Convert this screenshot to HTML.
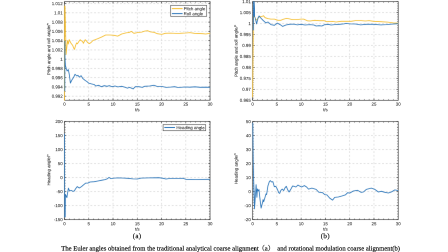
<!DOCTYPE html>
<html><head><meta charset="utf-8"><title>Euler angles</title>
<style>
html,body{margin:0;padding:0;background:#fff;}
svg{display:block}
html,body{overflow:hidden;width:448px;height:252px}
#w{width:448px;height:252px;overflow:hidden;position:relative}
#s{width:896px;height:504px;transform:scale(0.5);transform-origin:0 0;will-change:transform}
.g{stroke:#d4d4d4;stroke-width:0.6;stroke-dasharray:1.85 1.85;fill:none}
.a{stroke:#383838;stroke-width:0.65}
text{text-rendering:geometricPrecision}
.sans text{stroke:#262626;stroke-width:0.05}
.serif text{stroke:#111;stroke-width:0.18}
.sans{font-family:"Liberation Sans",Arial,sans-serif}
.serif{font-family:"Liberation Serif","Noto Serif CJK SC",serif}
.l{stroke:#3a3a3a;stroke-width:0.55}
.t{stroke:#383838;stroke-width:0.5;fill:none}
</style></head><body><div id="w"><div id="s">
<svg width="896" height="504" viewBox="0 0 448 252">
<defs><filter id="soft" x="0" y="0" width="448" height="252" filterUnits="userSpaceOnUse" color-interpolation-filters="sRGB"><feConvolveMatrix order="3" kernelMatrix="0.015 0.06 0.015 0.06 0.70 0.06 0.015 0.06 0.015" edgeMode="duplicate" preserveAlpha="true"/></filter></defs>
<g filter="url(#soft)">
<rect width="448" height="252" fill="#fff"/>
<line x1="88.76" y1="1.6" x2="88.76" y2="100.25" class="g"/>
<line x1="113.02" y1="1.6" x2="113.02" y2="100.25" class="g"/>
<line x1="137.28" y1="1.6" x2="137.28" y2="100.25" class="g"/>
<line x1="161.53" y1="1.6" x2="161.53" y2="100.25" class="g"/>
<line x1="185.79" y1="1.6" x2="185.79" y2="100.25" class="g"/>
<line x1="64.5" y1="3.59" x2="210.05" y2="3.59" class="g"/>
<line x1="64.5" y1="12.85" x2="210.05" y2="12.85" class="g"/>
<line x1="64.5" y1="22.11" x2="210.05" y2="22.11" class="g"/>
<line x1="64.5" y1="31.37" x2="210.05" y2="31.37" class="g"/>
<line x1="64.5" y1="40.63" x2="210.05" y2="40.63" class="g"/>
<line x1="64.5" y1="49.89" x2="210.05" y2="49.89" class="g"/>
<line x1="64.5" y1="59.15" x2="210.05" y2="59.15" class="g"/>
<line x1="64.5" y1="68.41" x2="210.05" y2="68.41" class="g"/>
<line x1="64.5" y1="77.67" x2="210.05" y2="77.67" class="g"/>
<line x1="64.5" y1="86.93" x2="210.05" y2="86.93" class="g"/>
<line x1="64.5" y1="96.19" x2="210.05" y2="96.19" class="g"/>
<line x1="276.88" y1="1.6" x2="276.88" y2="100.3" class="g"/>
<line x1="301.15" y1="1.6" x2="301.15" y2="100.3" class="g"/>
<line x1="325.43" y1="1.6" x2="325.43" y2="100.3" class="g"/>
<line x1="349.70" y1="1.6" x2="349.70" y2="100.3" class="g"/>
<line x1="373.98" y1="1.6" x2="373.98" y2="100.3" class="g"/>
<line x1="252.6" y1="12.57" x2="398.25" y2="12.57" class="g"/>
<line x1="252.6" y1="23.53" x2="398.25" y2="23.53" class="g"/>
<line x1="252.6" y1="34.50" x2="398.25" y2="34.50" class="g"/>
<line x1="252.6" y1="45.47" x2="398.25" y2="45.47" class="g"/>
<line x1="252.6" y1="56.43" x2="398.25" y2="56.43" class="g"/>
<line x1="252.6" y1="67.40" x2="398.25" y2="67.40" class="g"/>
<line x1="252.6" y1="78.37" x2="398.25" y2="78.37" class="g"/>
<line x1="252.6" y1="89.33" x2="398.25" y2="89.33" class="g"/>
<line x1="88.76" y1="121.5" x2="88.76" y2="219.6" class="g"/>
<line x1="113.02" y1="121.5" x2="113.02" y2="219.6" class="g"/>
<line x1="137.28" y1="121.5" x2="137.28" y2="219.6" class="g"/>
<line x1="161.53" y1="121.5" x2="161.53" y2="219.6" class="g"/>
<line x1="185.79" y1="121.5" x2="185.79" y2="219.6" class="g"/>
<line x1="64.5" y1="135.51" x2="210.05" y2="135.51" class="g"/>
<line x1="64.5" y1="149.53" x2="210.05" y2="149.53" class="g"/>
<line x1="64.5" y1="163.54" x2="210.05" y2="163.54" class="g"/>
<line x1="64.5" y1="177.56" x2="210.05" y2="177.56" class="g"/>
<line x1="64.5" y1="191.57" x2="210.05" y2="191.57" class="g"/>
<line x1="64.5" y1="205.59" x2="210.05" y2="205.59" class="g"/>
<line x1="276.88" y1="121.55" x2="276.88" y2="219.6" class="g"/>
<line x1="301.15" y1="121.55" x2="301.15" y2="219.6" class="g"/>
<line x1="325.43" y1="121.55" x2="325.43" y2="219.6" class="g"/>
<line x1="349.70" y1="121.55" x2="349.70" y2="219.6" class="g"/>
<line x1="373.98" y1="121.55" x2="373.98" y2="219.6" class="g"/>
<line x1="252.6" y1="135.56" x2="398.25" y2="135.56" class="g"/>
<line x1="252.6" y1="149.56" x2="398.25" y2="149.56" class="g"/>
<line x1="252.6" y1="163.57" x2="398.25" y2="163.57" class="g"/>
<line x1="252.6" y1="177.58" x2="398.25" y2="177.58" class="g"/>
<line x1="252.6" y1="191.59" x2="398.25" y2="191.59" class="g"/>
<line x1="252.6" y1="205.59" x2="398.25" y2="205.59" class="g"/>
<rect x="64.5" y="1.6" width="145.55" height="98.65" fill="none" class="a"/>
<path d="M64.50 100.25v-1.1M64.50 1.6v1.1M69.35 100.25v-1.1M69.35 1.6v1.1M74.20 100.25v-1.1M74.20 1.6v1.1M79.06 100.25v-1.1M79.06 1.6v1.1M83.91 100.25v-1.1M83.91 1.6v1.1M88.76 100.25v-1.1M88.76 1.6v1.1M93.61 100.25v-1.1M93.61 1.6v1.1M98.46 100.25v-1.1M98.46 1.6v1.1M103.31 100.25v-1.1M103.31 1.6v1.1M108.16 100.25v-1.1M108.16 1.6v1.1M113.02 100.25v-1.1M113.02 1.6v1.1M117.87 100.25v-1.1M117.87 1.6v1.1M122.72 100.25v-1.1M122.72 1.6v1.1M127.57 100.25v-1.1M127.57 1.6v1.1M132.42 100.25v-1.1M132.42 1.6v1.1M137.28 100.25v-1.1M137.28 1.6v1.1M142.13 100.25v-1.1M142.13 1.6v1.1M146.98 100.25v-1.1M146.98 1.6v1.1M151.83 100.25v-1.1M151.83 1.6v1.1M156.68 100.25v-1.1M156.68 1.6v1.1M161.53 100.25v-1.1M161.53 1.6v1.1M166.38 100.25v-1.1M166.38 1.6v1.1M171.24 100.25v-1.1M171.24 1.6v1.1M176.09 100.25v-1.1M176.09 1.6v1.1M180.94 100.25v-1.1M180.94 1.6v1.1M185.79 100.25v-1.1M185.79 1.6v1.1M190.64 100.25v-1.1M190.64 1.6v1.1M195.50 100.25v-1.1M195.50 1.6v1.1M200.35 100.25v-1.1M200.35 1.6v1.1M205.20 100.25v-1.1M205.20 1.6v1.1M210.05 100.25v-1.1M210.05 1.6v1.1M64.5 3.59h1.1M210.05 3.59h-1.1M64.5 8.22h1.1M210.05 8.22h-1.1M64.5 12.85h1.1M210.05 12.85h-1.1M64.5 17.48h1.1M210.05 17.48h-1.1M64.5 22.11h1.1M210.05 22.11h-1.1M64.5 26.74h1.1M210.05 26.74h-1.1M64.5 31.37h1.1M210.05 31.37h-1.1M64.5 36.00h1.1M210.05 36.00h-1.1M64.5 40.63h1.1M210.05 40.63h-1.1M64.5 45.26h1.1M210.05 45.26h-1.1M64.5 49.89h1.1M210.05 49.89h-1.1M64.5 54.52h1.1M210.05 54.52h-1.1M64.5 59.15h1.1M210.05 59.15h-1.1M64.5 63.78h1.1M210.05 63.78h-1.1M64.5 68.41h1.1M210.05 68.41h-1.1M64.5 73.04h1.1M210.05 73.04h-1.1M64.5 77.67h1.1M210.05 77.67h-1.1M64.5 82.30h1.1M210.05 82.30h-1.1M64.5 86.93h1.1M210.05 86.93h-1.1M64.5 91.56h1.1M210.05 91.56h-1.1M64.5 96.19h1.1M210.05 96.19h-1.1M64.50 100.25v-1.9M64.50 1.6v1.9M88.76 100.25v-1.9M88.76 1.6v1.9M113.02 100.25v-1.9M113.02 1.6v1.9M137.28 100.25v-1.9M137.28 1.6v1.9M161.53 100.25v-1.9M161.53 1.6v1.9M185.79 100.25v-1.9M185.79 1.6v1.9M210.05 100.25v-1.9M210.05 1.6v1.9M64.5 3.59h1.9M210.05 3.59h-1.9M64.5 12.85h1.9M210.05 12.85h-1.9M64.5 22.11h1.9M210.05 22.11h-1.9M64.5 31.37h1.9M210.05 31.37h-1.9M64.5 40.63h1.9M210.05 40.63h-1.9M64.5 49.89h1.9M210.05 49.89h-1.9M64.5 59.15h1.9M210.05 59.15h-1.9M64.5 68.41h1.9M210.05 68.41h-1.9M64.5 77.67h1.9M210.05 77.67h-1.9M64.5 86.93h1.9M210.05 86.93h-1.9M64.5 96.19h1.9M210.05 96.19h-1.9" class="t"/>
<rect x="252.6" y="1.6" width="145.65" height="98.70" fill="none" class="a"/>
<path d="M252.60 100.3v-1.1M252.60 1.6v1.1M257.45 100.3v-1.1M257.45 1.6v1.1M262.31 100.3v-1.1M262.31 1.6v1.1M267.17 100.3v-1.1M267.17 1.6v1.1M272.02 100.3v-1.1M272.02 1.6v1.1M276.88 100.3v-1.1M276.88 1.6v1.1M281.73 100.3v-1.1M281.73 1.6v1.1M286.58 100.3v-1.1M286.58 1.6v1.1M291.44 100.3v-1.1M291.44 1.6v1.1M296.30 100.3v-1.1M296.30 1.6v1.1M301.15 100.3v-1.1M301.15 1.6v1.1M306.00 100.3v-1.1M306.00 1.6v1.1M310.86 100.3v-1.1M310.86 1.6v1.1M315.71 100.3v-1.1M315.71 1.6v1.1M320.57 100.3v-1.1M320.57 1.6v1.1M325.43 100.3v-1.1M325.43 1.6v1.1M330.28 100.3v-1.1M330.28 1.6v1.1M335.13 100.3v-1.1M335.13 1.6v1.1M339.99 100.3v-1.1M339.99 1.6v1.1M344.84 100.3v-1.1M344.84 1.6v1.1M349.70 100.3v-1.1M349.70 1.6v1.1M354.56 100.3v-1.1M354.56 1.6v1.1M359.41 100.3v-1.1M359.41 1.6v1.1M364.26 100.3v-1.1M364.26 1.6v1.1M369.12 100.3v-1.1M369.12 1.6v1.1M373.98 100.3v-1.1M373.98 1.6v1.1M378.83 100.3v-1.1M378.83 1.6v1.1M383.69 100.3v-1.1M383.69 1.6v1.1M388.54 100.3v-1.1M388.54 1.6v1.1M393.39 100.3v-1.1M393.39 1.6v1.1M398.25 100.3v-1.1M398.25 1.6v1.1M252.6 1.60h1.1M398.25 1.60h-1.1M252.6 3.79h1.1M398.25 3.79h-1.1M252.6 5.99h1.1M398.25 5.99h-1.1M252.6 8.18h1.1M398.25 8.18h-1.1M252.6 10.37h1.1M398.25 10.37h-1.1M252.6 12.57h1.1M398.25 12.57h-1.1M252.6 14.76h1.1M398.25 14.76h-1.1M252.6 16.95h1.1M398.25 16.95h-1.1M252.6 19.15h1.1M398.25 19.15h-1.1M252.6 21.34h1.1M398.25 21.34h-1.1M252.6 23.53h1.1M398.25 23.53h-1.1M252.6 25.73h1.1M398.25 25.73h-1.1M252.6 27.92h1.1M398.25 27.92h-1.1M252.6 30.11h1.1M398.25 30.11h-1.1M252.6 32.31h1.1M398.25 32.31h-1.1M252.6 34.50h1.1M398.25 34.50h-1.1M252.6 36.69h1.1M398.25 36.69h-1.1M252.6 38.89h1.1M398.25 38.89h-1.1M252.6 41.08h1.1M398.25 41.08h-1.1M252.6 43.27h1.1M398.25 43.27h-1.1M252.6 45.47h1.1M398.25 45.47h-1.1M252.6 47.66h1.1M398.25 47.66h-1.1M252.6 49.85h1.1M398.25 49.85h-1.1M252.6 52.05h1.1M398.25 52.05h-1.1M252.6 54.24h1.1M398.25 54.24h-1.1M252.6 56.43h1.1M398.25 56.43h-1.1M252.6 58.63h1.1M398.25 58.63h-1.1M252.6 60.82h1.1M398.25 60.82h-1.1M252.6 63.01h1.1M398.25 63.01h-1.1M252.6 65.21h1.1M398.25 65.21h-1.1M252.6 67.40h1.1M398.25 67.40h-1.1M252.6 69.59h1.1M398.25 69.59h-1.1M252.6 71.79h1.1M398.25 71.79h-1.1M252.6 73.98h1.1M398.25 73.98h-1.1M252.6 76.17h1.1M398.25 76.17h-1.1M252.6 78.37h1.1M398.25 78.37h-1.1M252.6 80.56h1.1M398.25 80.56h-1.1M252.6 82.75h1.1M398.25 82.75h-1.1M252.6 84.95h1.1M398.25 84.95h-1.1M252.6 87.14h1.1M398.25 87.14h-1.1M252.6 89.33h1.1M398.25 89.33h-1.1M252.6 91.53h1.1M398.25 91.53h-1.1M252.6 93.72h1.1M398.25 93.72h-1.1M252.6 95.91h1.1M398.25 95.91h-1.1M252.6 98.11h1.1M398.25 98.11h-1.1M252.6 100.30h1.1M398.25 100.30h-1.1M252.60 100.3v-1.9M252.60 1.6v1.9M276.88 100.3v-1.9M276.88 1.6v1.9M301.15 100.3v-1.9M301.15 1.6v1.9M325.43 100.3v-1.9M325.43 1.6v1.9M349.70 100.3v-1.9M349.70 1.6v1.9M373.98 100.3v-1.9M373.98 1.6v1.9M398.25 100.3v-1.9M398.25 1.6v1.9M252.6 1.60h1.9M398.25 1.60h-1.9M252.6 12.57h1.9M398.25 12.57h-1.9M252.6 23.53h1.9M398.25 23.53h-1.9M252.6 34.50h1.9M398.25 34.50h-1.9M252.6 45.47h1.9M398.25 45.47h-1.9M252.6 56.43h1.9M398.25 56.43h-1.9M252.6 67.40h1.9M398.25 67.40h-1.9M252.6 78.37h1.9M398.25 78.37h-1.9M252.6 89.33h1.9M398.25 89.33h-1.9M252.6 100.30h1.9M398.25 100.30h-1.9" class="t"/>
<rect x="64.5" y="121.5" width="145.55" height="98.10" fill="none" class="a"/>
<path d="M64.50 219.6v-1.1M64.50 121.5v1.1M69.35 219.6v-1.1M69.35 121.5v1.1M74.20 219.6v-1.1M74.20 121.5v1.1M79.06 219.6v-1.1M79.06 121.5v1.1M83.91 219.6v-1.1M83.91 121.5v1.1M88.76 219.6v-1.1M88.76 121.5v1.1M93.61 219.6v-1.1M93.61 121.5v1.1M98.46 219.6v-1.1M98.46 121.5v1.1M103.31 219.6v-1.1M103.31 121.5v1.1M108.16 219.6v-1.1M108.16 121.5v1.1M113.02 219.6v-1.1M113.02 121.5v1.1M117.87 219.6v-1.1M117.87 121.5v1.1M122.72 219.6v-1.1M122.72 121.5v1.1M127.57 219.6v-1.1M127.57 121.5v1.1M132.42 219.6v-1.1M132.42 121.5v1.1M137.28 219.6v-1.1M137.28 121.5v1.1M142.13 219.6v-1.1M142.13 121.5v1.1M146.98 219.6v-1.1M146.98 121.5v1.1M151.83 219.6v-1.1M151.83 121.5v1.1M156.68 219.6v-1.1M156.68 121.5v1.1M161.53 219.6v-1.1M161.53 121.5v1.1M166.38 219.6v-1.1M166.38 121.5v1.1M171.24 219.6v-1.1M171.24 121.5v1.1M176.09 219.6v-1.1M176.09 121.5v1.1M180.94 219.6v-1.1M180.94 121.5v1.1M185.79 219.6v-1.1M185.79 121.5v1.1M190.64 219.6v-1.1M190.64 121.5v1.1M195.50 219.6v-1.1M195.50 121.5v1.1M200.35 219.6v-1.1M200.35 121.5v1.1M205.20 219.6v-1.1M205.20 121.5v1.1M210.05 219.6v-1.1M210.05 121.5v1.1M64.5 121.50h1.1M210.05 121.50h-1.1M64.5 124.30h1.1M210.05 124.30h-1.1M64.5 127.11h1.1M210.05 127.11h-1.1M64.5 129.91h1.1M210.05 129.91h-1.1M64.5 132.71h1.1M210.05 132.71h-1.1M64.5 135.51h1.1M210.05 135.51h-1.1M64.5 138.32h1.1M210.05 138.32h-1.1M64.5 141.12h1.1M210.05 141.12h-1.1M64.5 143.92h1.1M210.05 143.92h-1.1M64.5 146.73h1.1M210.05 146.73h-1.1M64.5 149.53h1.1M210.05 149.53h-1.1M64.5 152.33h1.1M210.05 152.33h-1.1M64.5 155.13h1.1M210.05 155.13h-1.1M64.5 157.94h1.1M210.05 157.94h-1.1M64.5 160.74h1.1M210.05 160.74h-1.1M64.5 163.54h1.1M210.05 163.54h-1.1M64.5 166.35h1.1M210.05 166.35h-1.1M64.5 169.15h1.1M210.05 169.15h-1.1M64.5 171.95h1.1M210.05 171.95h-1.1M64.5 174.75h1.1M210.05 174.75h-1.1M64.5 177.56h1.1M210.05 177.56h-1.1M64.5 180.36h1.1M210.05 180.36h-1.1M64.5 183.16h1.1M210.05 183.16h-1.1M64.5 185.97h1.1M210.05 185.97h-1.1M64.5 188.77h1.1M210.05 188.77h-1.1M64.5 191.57h1.1M210.05 191.57h-1.1M64.5 194.37h1.1M210.05 194.37h-1.1M64.5 197.18h1.1M210.05 197.18h-1.1M64.5 199.98h1.1M210.05 199.98h-1.1M64.5 202.78h1.1M210.05 202.78h-1.1M64.5 205.59h1.1M210.05 205.59h-1.1M64.5 208.39h1.1M210.05 208.39h-1.1M64.5 211.19h1.1M210.05 211.19h-1.1M64.5 213.99h1.1M210.05 213.99h-1.1M64.5 216.80h1.1M210.05 216.80h-1.1M64.5 219.60h1.1M210.05 219.60h-1.1M64.50 219.6v-1.9M64.50 121.5v1.9M88.76 219.6v-1.9M88.76 121.5v1.9M113.02 219.6v-1.9M113.02 121.5v1.9M137.28 219.6v-1.9M137.28 121.5v1.9M161.53 219.6v-1.9M161.53 121.5v1.9M185.79 219.6v-1.9M185.79 121.5v1.9M210.05 219.6v-1.9M210.05 121.5v1.9M64.5 121.50h1.9M210.05 121.50h-1.9M64.5 135.51h1.9M210.05 135.51h-1.9M64.5 149.53h1.9M210.05 149.53h-1.9M64.5 163.54h1.9M210.05 163.54h-1.9M64.5 177.56h1.9M210.05 177.56h-1.9M64.5 191.57h1.9M210.05 191.57h-1.9M64.5 205.59h1.9M210.05 205.59h-1.9M64.5 219.60h1.9M210.05 219.60h-1.9" class="t"/>
<rect x="252.6" y="121.55" width="145.65" height="98.05" fill="none" class="a"/>
<path d="M252.60 219.6v-1.1M252.60 121.55v1.1M257.45 219.6v-1.1M257.45 121.55v1.1M262.31 219.6v-1.1M262.31 121.55v1.1M267.17 219.6v-1.1M267.17 121.55v1.1M272.02 219.6v-1.1M272.02 121.55v1.1M276.88 219.6v-1.1M276.88 121.55v1.1M281.73 219.6v-1.1M281.73 121.55v1.1M286.58 219.6v-1.1M286.58 121.55v1.1M291.44 219.6v-1.1M291.44 121.55v1.1M296.30 219.6v-1.1M296.30 121.55v1.1M301.15 219.6v-1.1M301.15 121.55v1.1M306.00 219.6v-1.1M306.00 121.55v1.1M310.86 219.6v-1.1M310.86 121.55v1.1M315.71 219.6v-1.1M315.71 121.55v1.1M320.57 219.6v-1.1M320.57 121.55v1.1M325.43 219.6v-1.1M325.43 121.55v1.1M330.28 219.6v-1.1M330.28 121.55v1.1M335.13 219.6v-1.1M335.13 121.55v1.1M339.99 219.6v-1.1M339.99 121.55v1.1M344.84 219.6v-1.1M344.84 121.55v1.1M349.70 219.6v-1.1M349.70 121.55v1.1M354.56 219.6v-1.1M354.56 121.55v1.1M359.41 219.6v-1.1M359.41 121.55v1.1M364.26 219.6v-1.1M364.26 121.55v1.1M369.12 219.6v-1.1M369.12 121.55v1.1M373.98 219.6v-1.1M373.98 121.55v1.1M378.83 219.6v-1.1M378.83 121.55v1.1M383.69 219.6v-1.1M383.69 121.55v1.1M388.54 219.6v-1.1M388.54 121.55v1.1M393.39 219.6v-1.1M393.39 121.55v1.1M398.25 219.6v-1.1M398.25 121.55v1.1M252.6 121.55h1.1M398.25 121.55h-1.1M252.6 124.35h1.1M398.25 124.35h-1.1M252.6 127.15h1.1M398.25 127.15h-1.1M252.6 129.95h1.1M398.25 129.95h-1.1M252.6 132.76h1.1M398.25 132.76h-1.1M252.6 135.56h1.1M398.25 135.56h-1.1M252.6 138.36h1.1M398.25 138.36h-1.1M252.6 141.16h1.1M398.25 141.16h-1.1M252.6 143.96h1.1M398.25 143.96h-1.1M252.6 146.76h1.1M398.25 146.76h-1.1M252.6 149.56h1.1M398.25 149.56h-1.1M252.6 152.37h1.1M398.25 152.37h-1.1M252.6 155.17h1.1M398.25 155.17h-1.1M252.6 157.97h1.1M398.25 157.97h-1.1M252.6 160.77h1.1M398.25 160.77h-1.1M252.6 163.57h1.1M398.25 163.57h-1.1M252.6 166.37h1.1M398.25 166.37h-1.1M252.6 169.17h1.1M398.25 169.17h-1.1M252.6 171.98h1.1M398.25 171.98h-1.1M252.6 174.78h1.1M398.25 174.78h-1.1M252.6 177.58h1.1M398.25 177.58h-1.1M252.6 180.38h1.1M398.25 180.38h-1.1M252.6 183.18h1.1M398.25 183.18h-1.1M252.6 185.98h1.1M398.25 185.98h-1.1M252.6 188.78h1.1M398.25 188.78h-1.1M252.6 191.59h1.1M398.25 191.59h-1.1M252.6 194.39h1.1M398.25 194.39h-1.1M252.6 197.19h1.1M398.25 197.19h-1.1M252.6 199.99h1.1M398.25 199.99h-1.1M252.6 202.79h1.1M398.25 202.79h-1.1M252.6 205.59h1.1M398.25 205.59h-1.1M252.6 208.39h1.1M398.25 208.39h-1.1M252.6 211.20h1.1M398.25 211.20h-1.1M252.6 214.00h1.1M398.25 214.00h-1.1M252.6 216.80h1.1M398.25 216.80h-1.1M252.6 219.60h1.1M398.25 219.60h-1.1M252.60 219.6v-1.9M252.60 121.55v1.9M276.88 219.6v-1.9M276.88 121.55v1.9M301.15 219.6v-1.9M301.15 121.55v1.9M325.43 219.6v-1.9M325.43 121.55v1.9M349.70 219.6v-1.9M349.70 121.55v1.9M373.98 219.6v-1.9M373.98 121.55v1.9M398.25 219.6v-1.9M398.25 121.55v1.9M252.6 121.55h1.9M398.25 121.55h-1.9M252.6 135.56h1.9M398.25 135.56h-1.9M252.6 149.56h1.9M398.25 149.56h-1.9M252.6 163.57h1.9M398.25 163.57h-1.9M252.6 177.58h1.9M398.25 177.58h-1.9M252.6 191.59h1.9M398.25 191.59h-1.9M252.6 205.59h1.9M398.25 205.59h-1.9M252.6 219.60h1.9M398.25 219.60h-1.9" class="t"/>
<polyline points="64.4,100.3 64.7,6.0 65.0,6.0 66.1,54.5 67.5,40.5 68.3,44.0 69.2,39.6 70.6,42.6 71.6,44.0 72.7,45.4 73.8,48.3 74.5,49.4 75.6,45.4 76.6,42.9 77.4,43.8 79.1,41.1 80.2,39.7 81.3,40.8 82.4,41.1 83.4,43.3 84.5,41.1 85.2,39.7 86.6,41.1 87.7,42.6 89.1,43.6 90.6,42.9 92.0,41.5 93.1,40.4 94.3,40.0 97.9,38.6 101.4,37.1 105.7,35.0 110.0,35.0 114.0,35.3 117.7,36.1 121.7,34.0 126.0,32.9 129.6,32.3 131.4,31.4 133.9,33.3 137.4,32.6 141.7,32.1 144.6,31.1 147.7,30.7 150.3,31.9 153.9,32.3 157.4,33.7 161.7,34.4 165.3,33.3 170.3,33.1 176.0,33.4 180.0,33.3 185.7,33.0 190.0,32.6 194.3,33.3 202.9,33.7 205.7,34.0 209.8,33.3" fill="none" stroke="#F5BD2D" stroke-width="0.82" stroke-linejoin="round" stroke-linecap="round"/>
<polyline points="64.8,91.0 64.9,41.0 65.0,58.0 65.4,65.3 66.4,69.0 67.1,71.0 68.3,69.6 69.3,74.6 70.4,83.1 72.1,79.6 73.6,77.4 75.0,74.3 76.9,76.0 77.9,75.3 79.3,77.1 81.1,75.7 82.9,78.6 85.0,80.3 87.1,81.7 88.6,83.1 91.4,83.9 94.3,84.6 95.7,86.0 98.6,85.3 101.4,86.7 104.3,85.7 107.1,86.3 109.3,85.6 112.1,86.7 115.0,86.0 117.9,86.9 121.7,86.3 124.6,87.1 127.4,88.1 129.6,87.4 133.1,88.9 135.3,86.7 138.9,86.7 142.4,87.4 144.6,86.3 149.6,86.0 153.9,85.3 156.7,86.3 161.7,86.4 166.0,87.4 170.3,87.1 174.6,86.7 177.4,87.4 180.0,87.4 185.0,87.0 190.0,87.2 195.0,86.8 200.0,87.3 205.0,87.2 209.8,87.3" fill="none" stroke="#2B75B9" stroke-width="0.82" stroke-linejoin="round" stroke-linecap="round"/>
<polyline points="252.6,97.0 253.2,40.0 253.4,20.0 253.8,14.0 254.4,16.7 255.9,20.3 257.3,19.0 259.4,16.7 261.6,16.7 263.4,15.7 265.1,17.7 268.0,18.6 270.9,19.1 274.4,19.1 278.0,20.3 280.9,20.3 283.7,19.1 286.6,18.4 289.4,18.9 292.3,19.6 296.6,19.6 300.9,19.1 303.7,19.1 307.4,20.8 310.1,21.0 314.7,20.3 319.7,20.7 324.0,20.6 326.9,21.7 332.6,21.4 336.1,22.0 341.1,21.3 346.9,21.3 351.1,21.3 355.4,20.6 361.1,20.6 365.4,21.0 369.1,20.6 373.4,21.3 380.6,21.7 387.7,22.1 393.4,22.9 398.0,23.1" fill="none" stroke="#F5BD2D" stroke-width="0.82" stroke-linejoin="round" stroke-linecap="round"/>
<polyline points="253.3,30.0 253.6,1.6 253.9,1.6 254.3,16.0 255.4,18.9 256.6,23.9 258.0,18.1 259.1,16.0 260.9,18.1 263.0,20.3 265.9,22.9 268.0,22.0 270.9,24.6 274.4,25.3 277.3,23.1 280.1,24.6 282.7,26.4 285.9,25.0 289.4,24.3 293.7,24.1 297.3,24.9 300.9,24.3 305.1,25.0 309.7,24.6 314.0,25.0 316.1,26.0 319.0,25.7 321.9,26.0 324.7,24.6 328.3,24.3 331.1,25.0 334.7,24.6 339.7,24.3 344.0,23.9 346.1,23.4 349.7,23.9 355.4,24.0 360.6,24.9 366.3,24.3 373.4,24.3 380.6,24.9 386.3,24.6 392.0,24.1 398.0,23.7" fill="none" stroke="#2B75B9" stroke-width="0.82" stroke-linejoin="round" stroke-linecap="round"/>
<polyline points="64.6,134.0 64.7,217.0 65.2,217.0 65.4,194.5 66.1,195.8 66.9,197.6 67.5,193.5 68.4,188.2 69.5,190.8 71.4,190.5 72.9,191.3 74.3,191.0 75.7,188.6 77.2,186.6 79.3,188.0 81.4,186.7 83.6,184.8 85.7,183.1 87.9,183.1 90.0,182.0 94.3,181.7 97.9,181.0 101.4,180.3 105.0,179.6 107.1,178.9 109.0,177.4 110.7,178.6 114.3,178.1 118.6,177.9 124.0,178.1 127.4,178.3 133.1,178.9 137.4,179.0 141.0,178.1 148.9,177.9 158.9,177.7 163.1,178.3 166.0,179.0 170.3,178.4 180.0,178.4 182.9,178.3 185.7,179.3 195.7,179.5 209.8,179.3" fill="none" stroke="#2B75B9" stroke-width="0.82" stroke-linejoin="round" stroke-linecap="round"/>
<polyline points="252.8,123.0 253.2,160.0 253.8,190.0 254.5,208.9 255.4,196.0 256.1,184.6 256.9,197.4 257.4,188.9 258.3,191.0 259.0,189.6 259.8,197.4 261.1,208.1 262.6,202.4 263.1,199.6 263.7,201.7 265.0,197.4 266.0,193.9 266.6,194.6 267.9,186.0 269.3,181.7 270.3,180.6 271.6,182.0 272.9,181.7 274.3,186.7 275.8,186.3 277.2,188.9 278.7,192.7 279.7,193.4 280.9,190.3 282.3,189.1 283.7,190.6 285.1,187.7 286.3,186.3 287.7,189.9 289.1,192.0 290.9,189.1 292.6,186.0 294.0,186.3 295.9,187.0 298.0,185.1 300.1,186.3 301.6,187.0 304.4,185.6 306.6,187.0 308.5,189.1 311.9,188.1 316.1,189.4 319.0,192.4 322.6,192.7 324.7,194.6 326.9,194.9 329.7,198.1 332.6,200.1 334.7,197.4 338.3,197.0 341.9,196.0 345.4,194.9 347.6,192.7 349.7,193.1 353.3,191.0 357.6,190.3 361.2,192.4 363.4,192.0 366.3,189.4 371.3,188.1 374.9,189.4 378.4,192.0 381.3,191.3 384.9,192.3 388.4,193.0 391.3,192.0 394.9,189.9 398.0,190.6" fill="none" stroke="#2B75B9" stroke-width="0.82" stroke-linejoin="round" stroke-linecap="round"/>
<rect x="170.7" y="5.3" width="35.9" height="11.1" fill="#fff" class="l"/>
<line x1="171.9" y1="8.6" x2="182.6" y2="8.6" stroke="#F5BD2D"/>
<line x1="171.9" y1="13.6" x2="182.6" y2="13.6" stroke="#2B75B9"/>
<rect x="163.1" y="124.6" width="42.6" height="6.1" fill="#fff" class="l"/>
<line x1="164.3" y1="127.5" x2="175" y2="127.5" stroke="#2B75B9"/>
</g>
<g class="sans" font-size="4.4" fill="#262626">
<text x="64.50" y="105.70" text-anchor="middle" transform="rotate(0.25 64.50 105.70)">0</text>
<text x="88.76" y="105.70" text-anchor="middle" transform="rotate(0.25 88.76 105.70)">5</text>
<text x="113.02" y="105.70" text-anchor="middle" transform="rotate(0.25 113.02 105.70)">10</text>
<text x="137.28" y="105.70" text-anchor="middle" transform="rotate(0.25 137.28 105.70)">15</text>
<text x="161.53" y="105.70" text-anchor="middle" transform="rotate(0.25 161.53 105.70)">20</text>
<text x="185.79" y="105.70" text-anchor="middle" transform="rotate(0.25 185.79 105.70)">25</text>
<text x="210.05" y="105.70" text-anchor="middle" transform="rotate(0.25 210.05 105.70)">30</text>
<text x="62.70" y="5.19" text-anchor="end" transform="rotate(0.25 62.70 5.19)">1.012</text>
<text x="62.70" y="14.45" text-anchor="end" transform="rotate(0.25 62.70 14.45)">1.01</text>
<text x="62.70" y="23.71" text-anchor="end" transform="rotate(0.25 62.70 23.71)">1.008</text>
<text x="62.70" y="32.97" text-anchor="end" transform="rotate(0.25 62.70 32.97)">1.006</text>
<text x="62.70" y="42.23" text-anchor="end" transform="rotate(0.25 62.70 42.23)">1.004</text>
<text x="62.70" y="51.49" text-anchor="end" transform="rotate(0.25 62.70 51.49)">1.002</text>
<text x="62.70" y="60.75" text-anchor="end" transform="rotate(0.25 62.70 60.75)">1</text>
<text x="62.70" y="70.01" text-anchor="end" transform="rotate(0.25 62.70 70.01)">0.998</text>
<text x="62.70" y="79.27" text-anchor="end" transform="rotate(0.25 62.70 79.27)">0.996</text>
<text x="62.70" y="88.53" text-anchor="end" transform="rotate(0.25 62.70 88.53)">0.994</text>
<text x="62.70" y="97.79" text-anchor="end" transform="rotate(0.25 62.70 97.79)">0.992</text>
<text x="252.60" y="105.70" text-anchor="middle" transform="rotate(0.25 252.60 105.70)">0</text>
<text x="276.88" y="105.70" text-anchor="middle" transform="rotate(0.25 276.88 105.70)">5</text>
<text x="301.15" y="105.70" text-anchor="middle" transform="rotate(0.25 301.15 105.70)">10</text>
<text x="325.43" y="105.70" text-anchor="middle" transform="rotate(0.25 325.43 105.70)">15</text>
<text x="349.70" y="105.70" text-anchor="middle" transform="rotate(0.25 349.70 105.70)">20</text>
<text x="373.98" y="105.70" text-anchor="middle" transform="rotate(0.25 373.98 105.70)">25</text>
<text x="398.25" y="105.70" text-anchor="middle" transform="rotate(0.25 398.25 105.70)">30</text>
<text x="250.80" y="3.20" text-anchor="end" transform="rotate(0.25 250.80 3.20)">1.01</text>
<text x="250.80" y="14.17" text-anchor="end" transform="rotate(0.25 250.80 14.17)">1.005</text>
<text x="250.80" y="25.13" text-anchor="end" transform="rotate(0.25 250.80 25.13)">1</text>
<text x="250.80" y="36.10" text-anchor="end" transform="rotate(0.25 250.80 36.10)">0.995</text>
<text x="250.80" y="47.07" text-anchor="end" transform="rotate(0.25 250.80 47.07)">0.99</text>
<text x="250.80" y="58.03" text-anchor="end" transform="rotate(0.25 250.80 58.03)">0.985</text>
<text x="250.80" y="69.00" text-anchor="end" transform="rotate(0.25 250.80 69.00)">0.98</text>
<text x="250.80" y="79.97" text-anchor="end" transform="rotate(0.25 250.80 79.97)">0.975</text>
<text x="250.80" y="90.93" text-anchor="end" transform="rotate(0.25 250.80 90.93)">0.97</text>
<text x="250.80" y="101.90" text-anchor="end" transform="rotate(0.25 250.80 101.90)">0.965</text>
<text x="64.50" y="225.30" text-anchor="middle" transform="rotate(0.25 64.50 225.30)">0</text>
<text x="88.76" y="225.30" text-anchor="middle" transform="rotate(0.25 88.76 225.30)">5</text>
<text x="113.02" y="225.30" text-anchor="middle" transform="rotate(0.25 113.02 225.30)">10</text>
<text x="137.28" y="225.30" text-anchor="middle" transform="rotate(0.25 137.28 225.30)">15</text>
<text x="161.53" y="225.30" text-anchor="middle" transform="rotate(0.25 161.53 225.30)">20</text>
<text x="185.79" y="225.30" text-anchor="middle" transform="rotate(0.25 185.79 225.30)">25</text>
<text x="210.05" y="225.30" text-anchor="middle" transform="rotate(0.25 210.05 225.30)">30</text>
<text x="62.70" y="123.10" text-anchor="end" transform="rotate(0.25 62.70 123.10)">200</text>
<text x="62.70" y="137.11" text-anchor="end" transform="rotate(0.25 62.70 137.11)">150</text>
<text x="62.70" y="151.13" text-anchor="end" transform="rotate(0.25 62.70 151.13)">100</text>
<text x="62.70" y="165.14" text-anchor="end" transform="rotate(0.25 62.70 165.14)">50</text>
<text x="62.70" y="179.16" text-anchor="end" transform="rotate(0.25 62.70 179.16)">0</text>
<text x="62.70" y="193.17" text-anchor="end" transform="rotate(0.25 62.70 193.17)">-50</text>
<text x="62.70" y="207.19" text-anchor="end" transform="rotate(0.25 62.70 207.19)">-100</text>
<text x="62.70" y="221.20" text-anchor="end" transform="rotate(0.25 62.70 221.20)">-150</text>
<text x="252.60" y="225.30" text-anchor="middle" transform="rotate(0.25 252.60 225.30)">0</text>
<text x="276.88" y="225.30" text-anchor="middle" transform="rotate(0.25 276.88 225.30)">5</text>
<text x="301.15" y="225.30" text-anchor="middle" transform="rotate(0.25 301.15 225.30)">10</text>
<text x="325.43" y="225.30" text-anchor="middle" transform="rotate(0.25 325.43 225.30)">15</text>
<text x="349.70" y="225.30" text-anchor="middle" transform="rotate(0.25 349.70 225.30)">20</text>
<text x="373.98" y="225.30" text-anchor="middle" transform="rotate(0.25 373.98 225.30)">25</text>
<text x="398.25" y="225.30" text-anchor="middle" transform="rotate(0.25 398.25 225.30)">30</text>
<text x="250.80" y="123.15" text-anchor="end" transform="rotate(0.25 250.80 123.15)">50</text>
<text x="250.80" y="137.16" text-anchor="end" transform="rotate(0.25 250.80 137.16)">40</text>
<text x="250.80" y="151.16" text-anchor="end" transform="rotate(0.25 250.80 151.16)">30</text>
<text x="250.80" y="165.17" text-anchor="end" transform="rotate(0.25 250.80 165.17)">20</text>
<text x="250.80" y="179.18" text-anchor="end" transform="rotate(0.25 250.80 179.18)">10</text>
<text x="250.80" y="193.19" text-anchor="end" transform="rotate(0.25 250.80 193.19)">0</text>
<text x="250.80" y="207.19" text-anchor="end" transform="rotate(0.25 250.80 207.19)">-10</text>
<text x="250.80" y="221.20" text-anchor="end" transform="rotate(0.25 250.80 221.20)">-20</text>
<text x="137.3" y="111.3" text-anchor="middle" transform="rotate(0.25 137.3 111.3)">t/s</text>
<text x="137.3" y="230.6" text-anchor="middle" transform="rotate(0.25 137.3 230.6)">t/s</text>
<text x="325.4" y="111.3" text-anchor="middle" transform="rotate(0.25 325.4 111.3)">t/s</text>
<text x="325.4" y="230.6" text-anchor="middle" transform="rotate(0.25 325.4 230.6)">t/s</text>
<text transform="translate(50.2 49) rotate(-90.25)" text-anchor="middle">Pitch angle and roll angle/°</text>
<text transform="translate(237.6 50.7) rotate(-90.25)" text-anchor="middle">Pitch angle and roll angle/°</text>
<text transform="translate(50.2 169.8) rotate(-90.25)" text-anchor="middle">Heading angle/°</text>
<text transform="translate(237.6 168.5) rotate(-90.25)" text-anchor="middle">Heading angle/°</text>
<text x="183.6" y="10.2" transform="rotate(0.25 183.6 10.2)">Pitch angle</text>
<text x="183.6" y="15.2" transform="rotate(0.25 183.6 15.2)">Roll angle</text>
<text x="176.4" y="129.1" transform="rotate(0.25 176.4 129.1)">Heading angle</text>
</g>
<g class="serif" fill="#111">
<text x="137.1" y="238.1" font-size="7" text-anchor="middle" letter-spacing="0.3" transform="rotate(0.2 137 238.1)">(a)</text>
<text x="325.3" y="238.1" font-size="7" text-anchor="middle" letter-spacing="0.3" transform="rotate(0.2 325 238.1)">(b)</text>
<text y="250.5" font-size="6.6"><tspan x="61.3" textLength="197.4" lengthAdjust="spacing">The Euler angles obtained from the traditional analytical coarse alignment</tspan><tspan x="258.2">（a）</tspan><tspan x="277.3" textLength="122.7" lengthAdjust="spacing">and rotational modulation coarse alignment(b)</tspan></text>
</g>
</svg>
</div></div></body></html>
